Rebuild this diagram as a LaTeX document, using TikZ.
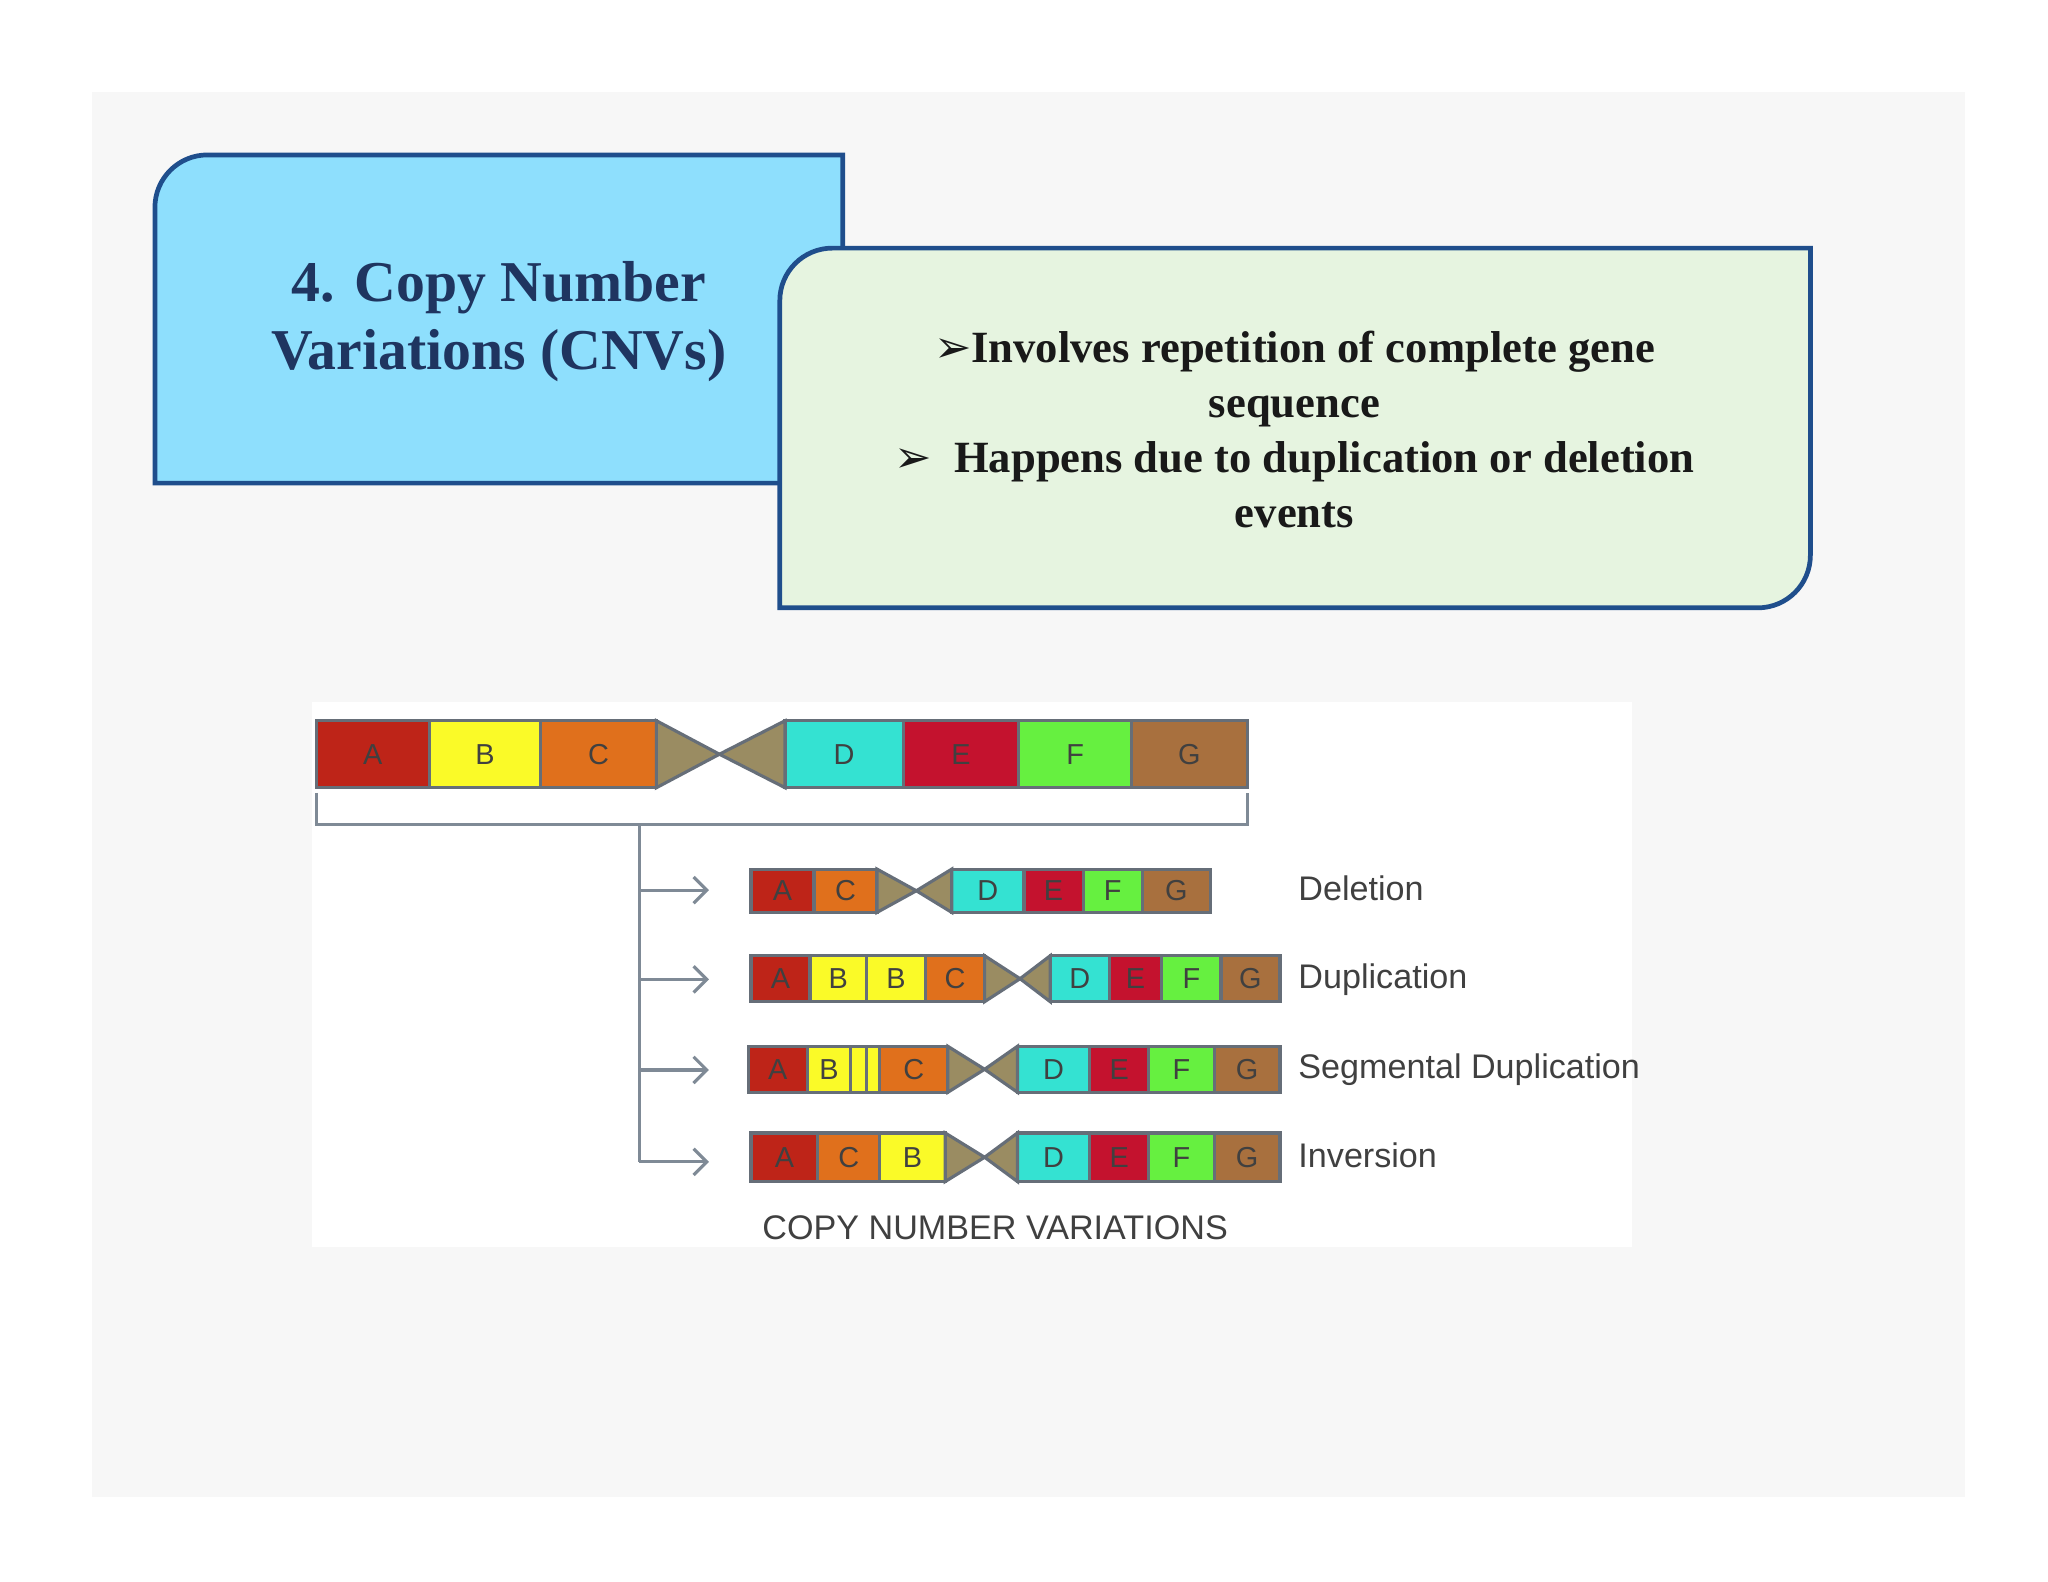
\documentclass[tikz,border=0pt]{standalone}
\usepackage{fontspec}
\usetikzlibrary{arrows.meta}
\setmainfont{Liberation Serif}
\setsansfont{Liberation Sans}
\newfontfamily\symfont{DejaVu Sans}
\definecolor{navy}{HTML}{1F3560}
\definecolor{bord}{HTML}{1F4E8C}
\definecolor{bluef}{HTML}{8EDFFD}
\definecolor{greenf}{HTML}{E6F4E0}
\definecolor{cA}{HTML}{BE2418}
\definecolor{cB}{HTML}{FAFA28}
\definecolor{cC}{HTML}{E0701C}
\definecolor{cT}{HTML}{9A8C62}
\definecolor{cD}{HTML}{34E2D2}
\definecolor{cE}{HTML}{C4122E}
\definecolor{cF}{HTML}{66F040}
\definecolor{cG}{HTML}{A8703E}
\definecolor{gl}{HTML}{7F8A96}
\tikzset{gene/.style={draw=gl!80!black,line width=1.2pt},
lbl/.style={font=\sffamily\fontsize{13}{15}\selectfont,text=black!75,anchor=west},
gl/.style={font=\sffamily\fontsize{11}{13}\selectfont,text=black!75},
lk/.style={draw=gl,line width=1.2pt}}
\newcommand{\genes}[3]{% top, bottom, list x1/x2/color/label
 \foreach \a/\b/\c/\l in {#3}{\path[gene,fill=\c] (\a,#1) rectangle (\b,#2);
 \node[gl] at ({(\a+\b)/2},{(#1+#2)/2}) {\l};}}
\newcommand{\centro}[5]{% top bottom x1 xm x2
 \path[gene,fill=cT] (#3,#1) -- (#4,{(#1+#2)/2}) -- (#3,#2) -- cycle;
 \path[gene,fill=cT] (#5,#1) -- (#4,{(#1+#2)/2}) -- (#5,#2) -- cycle;}
\begin{document}
\begin{tikzpicture}[x=0.5pt,y=-0.5pt]
\useasboundingbox (0,0) rectangle (1560,1205);
\fill[white] (0,0) rectangle (1560,1205);
\fill[black!3] (70,70) rectangle (1497,1140);
\fill[white] (238,535) rectangle (1243,950);
% blue box
\path[draw=bord,line width=1.8pt,fill=bluef] (118,368) -- (118,158) arc[start angle=180,end angle=270,radius=40] -- (642,118) -- (642,368) -- cycle;
\node[font=\bfseries\fontsize{22}{26}\selectfont,text=navy,align=center] (title) at (380,245) {4. Copy Number\\Variations (CNVs)};
% green box
\path[draw=bord,line width=1.8pt,fill=greenf] (594,463) -- (594,229) arc[start angle=180,end angle=270,radius=40] -- (1379,189) -- (1379,423) arc[start angle=0,end angle=90,radius=40] -- cycle;
\node[font=\bfseries\fontsize{17}{21}\selectfont,text=black!90,align=center] (bul) at (986,327) {{\symfont ➢}Involves repetition of complete gene\\sequence\\{\symfont ➢}\ \ Happens due to duplication or deletion\\events};
% top chromosome
\genes{549}{600}{241/327/cA/A,327/412/cB/B,412/500/cC/C,598/688/cD/D,688/776/cE/E,776/862/cF/F,862/950/cG/G}
\centro{549}{600}{500}{548}{598}
% bracket
\coordinate (bl) at (241,628); \coordinate (br) at (950,628);
\draw[lk] (241,604) -- (bl) -- (br) -- (950,604);
\coordinate (top) at (487,628); \coordinate (bot) at (487,885);
\draw[lk] (top) -- (bot);
\foreach \y in {678,746,815,885}{\coordinate (s\y) at (487,\y); \coordinate (e\y) at (540,\y);
 \draw[lk,-{Straight Barb[length=5pt]}] (s\y) -- (e\y);}
% deletion
\genes{662}{695}{572/620/cA/A,620/668/cC/C,725/780/cD/D,780/825/cE/E,825/870/cF/F,870/922/cG/G}
\centro{662}{695}{668}{698}{725}
\node[lbl] (l1) at (982,677) {Deletion};
% duplication
\genes{728}{763}{572/617/cA/A,617/660/cB/B,660/705/cB/B,705/750/cC/C,800/845/cD/D,845/885/cE/E,885/930/cF/F,930/975/cG/G}
\centro{728}{763}{750}{777}{800}
\node[lbl] (l2) at (982,746) {Duplication};
% segmental
\genes{797}{832}{570/615/cA/A,615/648/cB/B,648/660/cB/,660/670/cB/,670/722/cC/C,775/830/cD/D,830/875/cE/E,875/925/cF/F,925/975/cG/G}
\centro{797}{832}{722}{750}{775}
\node[lbl] (l3) at (982,815) {Segmental Duplication};
% inversion
\genes{863}{900}{572/623/cA/A,623/670/cC/C,670/720/cB/B,775/830/cD/D,830/875/cE/E,875/925/cF/F,925/975/cG/G}
\centro{863}{900}{720}{750}{775}
\node[lbl] (l4) at (982,880) {Inversion};
\node[font=\sffamily\fontsize{13}{15}\selectfont,text=black!75] (cap) at (758,935) {COPY NUMBER VARIATIONS};
\end{tikzpicture}
\end{document}
